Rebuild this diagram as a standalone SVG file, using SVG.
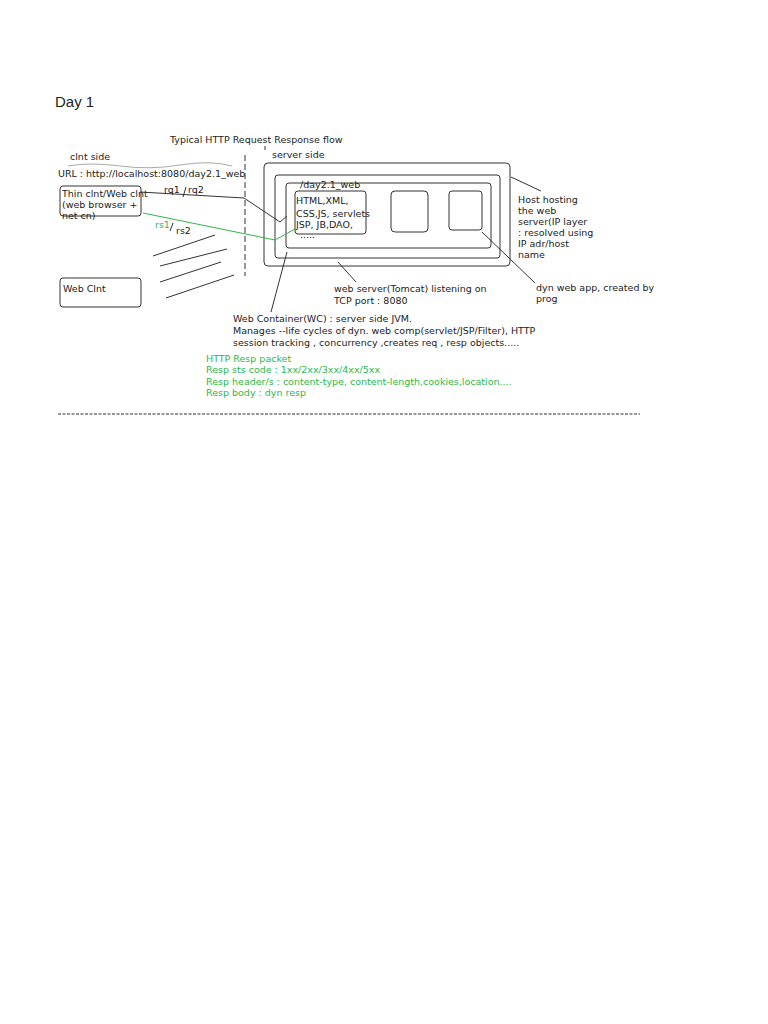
<svg xmlns="http://www.w3.org/2000/svg" width="768" height="1024" viewBox="0 0 768 1024">
<style>
text{font-family:"DejaVu Sans",Verdana,sans-serif;font-size:9.5px;fill:#222}
.g{fill:#2db84a}
.b{fill:none;stroke:#333;stroke-width:1}
.l{stroke:#333;stroke-width:1;fill:none}
</style>
<rect width="768" height="1024" fill="#fff"/>
<text x="55" y="107" style="font-family:'Liberation Sans',Arial,sans-serif;font-size:15px">Day 1</text>
<text x="170" y="143">Typical HTTP Request Response flow</text>
<line class="l" x1="265" y1="146" x2="265" y2="150"/>
<text x="272" y="158">server side</text>
<text x="70" y="160">clnt side</text>
<path d="M68 166 Q90 162 120 166 T180 165 T232 166" fill="none" stroke="#aaa"/>
<text x="58" y="177">URL : http://localhost:8080/day2.1_web</text>
<line x1="245" y1="155" x2="245" y2="276" stroke="#333" stroke-dasharray="6,3"/>
<g id="thin-client"><rect class="b" x="60" y="186" width="81" height="30" rx="3"/>
<text x="62" y="197">Thin clnt/Web clnt</text><text x="62" y="208">(web browser +</text><text x="62" y="219">net cn)</text></g>
<g id="web-client"><rect class="b" x="60" y="278" width="81" height="29" rx="3"/><text x="63" y="292">Web Clnt</text></g>
<g id="host"><rect class="b" x="264" y="163" width="246" height="103" rx="4"/></g>
<g id="web-server"><rect class="b" x="275" y="175" width="225" height="83" rx="3"/></g>
<g id="web-container"><rect class="b" x="286" y="183" width="205" height="65" rx="3"/></g>
<g id="web-app"><rect class="b" x="295" y="191" width="71" height="43" rx="3"/>
<text x="300" y="188">/day2.1_web</text>
<text x="296" y="204">HTML,XML,</text><text x="296" y="217">CSS,JS, servlets</text><text x="296" y="228">JSP, JB,DAO,</text><text x="300" y="238">.....</text></g>
<g id="app2"><rect class="b" x="391" y="191" width="37" height="41" rx="4"/></g>
<g id="app3"><rect class="b" x="449" y="191" width="33" height="39" rx="3"/></g>
<g id="connectors">
<polyline class="l" points="140,192 244,198 280,222 287,216"/>
<polyline points="143,213 275,240 295,229" fill="none" stroke="#2db84a"/>
<line class="l" x1="153" y1="256" x2="215" y2="235"/>
<line class="l" x1="160" y1="266" x2="227" y2="249"/>
<line class="l" x1="160" y1="282" x2="221" y2="262"/>
<line class="l" x1="166" y1="298" x2="234" y2="275"/>
<line class="l" x1="511" y1="177" x2="541" y2="191"/>
<line class="l" x1="338" y1="262" x2="356" y2="282"/>
<line class="l" x1="482" y1="232" x2="535" y2="283"/>
<line class="l" x1="287" y1="252" x2="271" y2="312"/>
<line class="l" x1="186" y1="187" x2="183" y2="197"/>
<line class="l" x1="173" y1="223" x2="170" y2="231"/>
</g>
<text x="164" y="193">rq1</text><text x="188" y="193">rq2</text>
<text x="155" y="228" class="g">rs1</text><text x="176" y="234">rs2</text>
<text x="518" y="203">Host hosting</text><text x="518" y="214">the web</text><text x="518" y="225">server(IP layer</text><text x="518" y="236">: resolved using</text><text x="518" y="247">IP adr/host</text><text x="518" y="258">name</text>
<text x="334" y="292">web server(Tomcat) listening on</text><text x="334" y="304">TCP port : 8080</text>
<text x="536" y="291">dyn web app, created by</text><text x="536" y="302">prog</text>
<text x="233" y="322">Web Container(WC) : server side JVM.</text>
<text x="233" y="334">Manages --life cycles of dyn. web comp(servlet/JSP/Filter), HTTP</text>
<text x="233" y="346">session tracking , concurrency ,creates req , resp objects.....</text>
<text x="206" y="362" class="g">HTTP Resp packet</text>
<text x="206" y="373" class="g">Resp sts code : 1xx/2xx/3xx/4xx/5xx</text>
<text x="206" y="385" class="g">Resp header/s : content-type, content-length,cookies,location....</text>
<text x="206" y="396" class="g">Resp body : dyn resp</text>
<line x1="58" y1="414" x2="640" y2="414" stroke="#333" stroke-dasharray="3,1.5"/>
</svg>
